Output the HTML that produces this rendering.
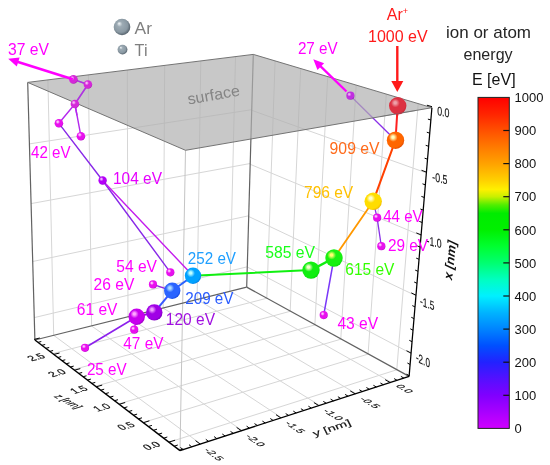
<!DOCTYPE html>
<html><head><meta charset="utf-8"><title>Ion trajectory</title>
<style>html,body{margin:0;padding:0;background:#fff;}svg{display:block;}text{font-family:"Liberation Sans",Arial,sans-serif;}</style>
</head><body>
<svg width="550" height="465" viewBox="0 0 550 465">
<defs>
<radialGradient id="gRed" cx="0.40" cy="0.38" r="0.66" fx="0.35" fy="0.32"><stop offset="0" stop-color="#eea0a8"/><stop offset="0.10" stop-color="#eea0a8"/><stop offset="0.38" stop-color="#dc3242"/><stop offset="0.82" stop-color="#dc3242"/><stop offset="1" stop-color="#c42434"/></radialGradient>
<radialGradient id="gMa3" cx="0.40" cy="0.38" r="0.66" fx="0.35" fy="0.32"><stop offset="0" stop-color="#f0b0f8"/><stop offset="0.10" stop-color="#f0b0f8"/><stop offset="0.38" stop-color="#c030e0"/><stop offset="0.82" stop-color="#c030e0"/><stop offset="1" stop-color="#9020b8"/></radialGradient>
<radialGradient id="gOr" cx="0.40" cy="0.38" r="0.66" fx="0.35" fy="0.32"><stop offset="0" stop-color="#ffffc0"/><stop offset="0.10" stop-color="#ffffc0"/><stop offset="0.38" stop-color="#ff6600"/><stop offset="0.82" stop-color="#ff6600"/><stop offset="1" stop-color="#e04800"/></radialGradient>
<radialGradient id="gYe" cx="0.40" cy="0.38" r="0.66" fx="0.35" fy="0.32"><stop offset="0" stop-color="#ffffd0"/><stop offset="0.10" stop-color="#ffffd0"/><stop offset="0.38" stop-color="#ffdd00"/><stop offset="0.82" stop-color="#ffdd00"/><stop offset="1" stop-color="#f0b800"/></radialGradient>
<radialGradient id="gYG" cx="0.40" cy="0.38" r="0.66" fx="0.35" fy="0.32"><stop offset="0" stop-color="#ffff70"/><stop offset="0.10" stop-color="#ffff70"/><stop offset="0.38" stop-color="#18f010"/><stop offset="0.82" stop-color="#18f010"/><stop offset="1" stop-color="#08dc08"/></radialGradient>
<radialGradient id="gGr" cx="0.40" cy="0.38" r="0.66" fx="0.35" fy="0.32"><stop offset="0" stop-color="#f0ffc8"/><stop offset="0.10" stop-color="#f0ffc8"/><stop offset="0.38" stop-color="#10ee10"/><stop offset="0.82" stop-color="#10ee10"/><stop offset="1" stop-color="#04d804"/></radialGradient>
<radialGradient id="gCy" cx="0.40" cy="0.38" r="0.66" fx="0.35" fy="0.32"><stop offset="0" stop-color="#c0ffff"/><stop offset="0.10" stop-color="#c0ffff"/><stop offset="0.38" stop-color="#00a2ff"/><stop offset="0.82" stop-color="#00a2ff"/><stop offset="1" stop-color="#0078e0"/></radialGradient>
<radialGradient id="gBl" cx="0.40" cy="0.38" r="0.66" fx="0.35" fy="0.32"><stop offset="0" stop-color="#b0e0ff"/><stop offset="0.10" stop-color="#b0e0ff"/><stop offset="0.38" stop-color="#2a64ff"/><stop offset="0.82" stop-color="#2a64ff"/><stop offset="1" stop-color="#1040d8"/></radialGradient>
<radialGradient id="gPu" cx="0.40" cy="0.38" r="0.66" fx="0.35" fy="0.32"><stop offset="0" stop-color="#f0a0ff"/><stop offset="0.10" stop-color="#f0a0ff"/><stop offset="0.38" stop-color="#a000e6"/><stop offset="0.82" stop-color="#a000e6"/><stop offset="1" stop-color="#7800b8"/></radialGradient>
<radialGradient id="gMP" cx="0.40" cy="0.38" r="0.66" fx="0.35" fy="0.32"><stop offset="0" stop-color="#ffa8ff"/><stop offset="0.10" stop-color="#ffa8ff"/><stop offset="0.38" stop-color="#c800ee"/><stop offset="0.82" stop-color="#c800ee"/><stop offset="1" stop-color="#9800c0"/></radialGradient>
<radialGradient id="gMa" cx="0.40" cy="0.38" r="0.66" fx="0.35" fy="0.32"><stop offset="0" stop-color="#ffc0ff"/><stop offset="0.10" stop-color="#ffc0ff"/><stop offset="0.38" stop-color="#e810ee"/><stop offset="0.82" stop-color="#e810ee"/><stop offset="1" stop-color="#b000c4"/></radialGradient>
<radialGradient id="gMa2" cx="0.40" cy="0.38" r="0.66" fx="0.35" fy="0.32"><stop offset="0" stop-color="#f8b8f8"/><stop offset="0.10" stop-color="#f8b8f8"/><stop offset="0.38" stop-color="#d428d8"/><stop offset="0.82" stop-color="#d428d8"/><stop offset="1" stop-color="#a818b0"/></radialGradient>
<radialGradient id="g104" cx="0.40" cy="0.38" r="0.66" fx="0.35" fy="0.32"><stop offset="0" stop-color="#f0b0ff"/><stop offset="0.10" stop-color="#f0b0ff"/><stop offset="0.38" stop-color="#b400f8"/><stop offset="0.82" stop-color="#b400f8"/><stop offset="1" stop-color="#8800d0"/></radialGradient>
<radialGradient id="gAr" cx="0.40" cy="0.38" r="0.66" fx="0.35" fy="0.32"><stop offset="0" stop-color="#f4f8fa"/><stop offset="0.10" stop-color="#f4f8fa"/><stop offset="0.38" stop-color="#8d9aa3"/><stop offset="0.82" stop-color="#8d9aa3"/><stop offset="1" stop-color="#5a666e"/></radialGradient>
<radialGradient id="gLeg" cx="0.46" cy="0.45" r="0.58" fx="0.32" fy="0.28"><stop offset="0" stop-color="#f4f7f9"/><stop offset="0.1" stop-color="#d3dbe0"/><stop offset="0.28" stop-color="#9dabb4"/><stop offset="0.72" stop-color="#8a99a3"/><stop offset="0.92" stop-color="#5f6c76"/><stop offset="1" stop-color="#4a5660"/></radialGradient>
<linearGradient id="cb" x1="0" y1="0" x2="0" y2="1"><stop offset="0.000" stop-color="#ff0000"/><stop offset="0.050" stop-color="#ff2400"/><stop offset="0.100" stop-color="#ff5000"/><stop offset="0.150" stop-color="#ff7a00"/><stop offset="0.200" stop-color="#ffa200"/><stop offset="0.250" stop-color="#ffd000"/><stop offset="0.278" stop-color="#fff000"/><stop offset="0.300" stop-color="#c8f000"/><stop offset="0.325" stop-color="#50ee00"/><stop offset="0.350" stop-color="#00ec00"/><stop offset="0.400" stop-color="#00f000"/><stop offset="0.450" stop-color="#00ff30"/><stop offset="0.500" stop-color="#00ff70"/><stop offset="0.550" stop-color="#00ffc0"/><stop offset="0.600" stop-color="#00f0ff"/><stop offset="0.650" stop-color="#00b4ff"/><stop offset="0.700" stop-color="#0084ff"/><stop offset="0.750" stop-color="#0050ff"/><stop offset="0.800" stop-color="#2222ff"/><stop offset="0.850" stop-color="#5410ff"/><stop offset="0.900" stop-color="#8000ff"/><stop offset="0.950" stop-color="#a800ff"/><stop offset="1.000" stop-color="#d000ff"/></linearGradient>
</defs>
<rect width="550" height="465" fill="#fff"/>
<g id="grid" fill="none">
<line x1="200.6" y1="443.9" x2="53.7" y2="335.3" stroke="#d6d6d6" stroke-width="1" />
<line x1="53.7" y1="335.3" x2="47.9" y2="79.9" stroke="#d6d6d6" stroke-width="1" />
<line x1="242.0" y1="430.5" x2="91.4" y2="325.9" stroke="#d6d6d6" stroke-width="1" />
<line x1="91.6" y1="325.8" x2="88.4" y2="74.9" stroke="#d6d6d6" stroke-width="1" />
<line x1="281.6" y1="417.7" x2="127.8" y2="316.8" stroke="#d6d6d6" stroke-width="1" />
<line x1="128.0" y1="316.7" x2="127.3" y2="70.0" stroke="#d6d6d6" stroke-width="1" />
<line x1="319.6" y1="405.4" x2="163.0" y2="308.0" stroke="#d6d6d6" stroke-width="1" />
<line x1="163.2" y1="308.0" x2="164.7" y2="65.4" stroke="#d6d6d6" stroke-width="1" />
<line x1="356.0" y1="393.6" x2="197.0" y2="299.5" stroke="#d6d6d6" stroke-width="1" />
<line x1="197.1" y1="299.5" x2="200.8" y2="60.9" stroke="#d6d6d6" stroke-width="1" />
<line x1="391.1" y1="382.2" x2="229.8" y2="291.3" stroke="#d6d6d6" stroke-width="1" />
<line x1="229.9" y1="291.3" x2="235.5" y2="56.6" stroke="#d6d6d6" stroke-width="1" />
<line x1="169.0" y1="442.2" x2="397.0" y2="369.7" stroke="#d6d6d6" stroke-width="1" />
<line x1="396.8" y1="369.7" x2="418.2" y2="103.6" stroke="#d6d6d6" stroke-width="1" />
<line x1="143.1" y1="422.5" x2="368.4" y2="354.0" stroke="#d6d6d6" stroke-width="1" />
<line x1="368.1" y1="353.8" x2="386.3" y2="94.1" stroke="#d6d6d6" stroke-width="1" />
<line x1="118.7" y1="403.9" x2="341.2" y2="339.1" stroke="#d6d6d6" stroke-width="1" />
<line x1="340.8" y1="338.8" x2="356.2" y2="85.1" stroke="#d6d6d6" stroke-width="1" />
<line x1="95.6" y1="386.2" x2="315.3" y2="324.8" stroke="#d6d6d6" stroke-width="1" />
<line x1="314.9" y1="324.6" x2="327.7" y2="76.6" stroke="#d6d6d6" stroke-width="1" />
<line x1="73.6" y1="369.5" x2="290.6" y2="311.2" stroke="#d6d6d6" stroke-width="1" />
<line x1="290.2" y1="311.0" x2="300.7" y2="68.5" stroke="#d6d6d6" stroke-width="1" />
<line x1="52.7" y1="353.6" x2="267.0" y2="298.2" stroke="#d6d6d6" stroke-width="1" />
<line x1="266.8" y1="298.1" x2="275.1" y2="60.9" stroke="#d6d6d6" stroke-width="1" />
<line x1="29.4" y1="143.9" x2="251.7" y2="109.7" stroke="#d6d6d6" stroke-width="1" />
<line x1="426.4" y1="172.9" x2="251.7" y2="110.3" stroke="#d6d6d6" stroke-width="1" />
<line x1="31.1" y1="203.6" x2="250.2" y2="163.5" stroke="#d6d6d6" stroke-width="1" />
<line x1="421.1" y1="235.5" x2="250.2" y2="164.3" stroke="#d6d6d6" stroke-width="1" />
<line x1="32.7" y1="261.5" x2="248.7" y2="215.8" stroke="#d6d6d6" stroke-width="1" />
<line x1="415.9" y1="295.7" x2="248.7" y2="216.5" stroke="#d6d6d6" stroke-width="1" />
<line x1="34.3" y1="317.6" x2="247.3" y2="266.8" stroke="#d6d6d6" stroke-width="1" />
<line x1="411.0" y1="353.5" x2="247.3" y2="267.0" stroke="#d6d6d6" stroke-width="1" />
</g>
<g id="edges">
<line x1="185.5" y1="150.3" x2="180.0" y2="450.6" stroke="#c4c4c4" stroke-width="1" />
<line x1="27.7" y1="82.4" x2="34.9" y2="340.0" stroke="#626262" stroke-width="1.2" />
<line x1="34.9" y1="340.0" x2="246.7" y2="287.1" stroke="#626262" stroke-width="1.2" />
<line x1="246.7" y1="287.1" x2="409.1" y2="376.4" stroke="#626262" stroke-width="1.2" />
<line x1="253.3" y1="54.4" x2="246.7" y2="287.1" stroke="#626262" stroke-width="1.2" />
</g>
<g id="traj" stroke-linecap="round">
<line x1="350.4" y1="95.7" x2="395.5" y2="140.2" stroke="#8a30e8" stroke-width="1.3" />
<line x1="377.1" y1="217.7" x2="373.2" y2="201.3" stroke="#8a30e8" stroke-width="1.3" />
<line x1="377.1" y1="217.7" x2="381.3" y2="246.2" stroke="#8a30e8" stroke-width="1.3" />
<line x1="334.0" y1="258.0" x2="323.7" y2="315.1" stroke="#7a38f8" stroke-width="1.5" />
<line x1="102.6" y1="180.5" x2="170.3" y2="272.3" stroke="#8828e8" stroke-width="1.4" />
<line x1="102.6" y1="180.5" x2="193.0" y2="275.8" stroke="#c41cee" stroke-width="1.4" />
<line x1="58.9" y1="123.3" x2="102.6" y2="180.5" stroke="#8828e8" stroke-width="1.4" />
<line x1="58.9" y1="123.3" x2="74.9" y2="104.0" stroke="#b428ee" stroke-width="1.4" />
<line x1="74.9" y1="104.0" x2="80.9" y2="136.2" stroke="#b428ee" stroke-width="1.4" />
<line x1="74.9" y1="104.0" x2="87.9" y2="84.5" stroke="#b428ee" stroke-width="1.4" />
<line x1="87.9" y1="84.5" x2="73.4" y2="79.4" stroke="#b428ee" stroke-width="1.4" />
<line x1="153.0" y1="284.4" x2="172.2" y2="290.8" stroke="#9020e0" stroke-width="1.4" />
<line x1="136.7" y1="316.7" x2="85.0" y2="347.8" stroke="#8c20ec" stroke-width="1.6" />
<line x1="136.7" y1="316.7" x2="134.2" y2="329.7" stroke="#d418ee" stroke-width="1.4" />
<line x1="397.7" y1="105.8" x2="395.5" y2="140.2" stroke="#ff2020" stroke-width="2.0" />
<line x1="395.5" y1="140.2" x2="373.2" y2="201.3" stroke="#ff4000" stroke-width="2.0" />
<line x1="373.2" y1="201.3" x2="334.0" y2="258.0" stroke="#ff9800" stroke-width="1.8" />
<line x1="334.0" y1="258.0" x2="311.0" y2="270.1" stroke="#10ee10" stroke-width="2.4" />
<line x1="311.0" y1="270.1" x2="193.0" y2="275.8" stroke="#10f010" stroke-width="2.0" />
<line x1="193.0" y1="275.8" x2="172.2" y2="290.8" stroke="#2860ff" stroke-width="2.0" />
<line x1="172.2" y1="290.8" x2="154.3" y2="312.4" stroke="#3858ff" stroke-width="2.0" />
<line x1="154.3" y1="312.4" x2="136.7" y2="316.7" stroke="#a000e0" stroke-width="2.0" />
<circle cx="58.9" cy="123.3" r="4.3" fill="url(#gMa)"/>
<circle cx="80.9" cy="136.2" r="4.3" fill="url(#gMa)"/>
<circle cx="377.1" cy="217.7" r="4.1" fill="url(#gMa)"/>
<circle cx="381.3" cy="246.2" r="4.1" fill="url(#gMa)"/>
<circle cx="323.7" cy="315.1" r="4.1" fill="url(#gMa)"/>
<circle cx="170.3" cy="272.3" r="4.1" fill="url(#gMa)"/>
<circle cx="153.0" cy="284.4" r="4.1" fill="url(#gMa)"/>
<circle cx="134.2" cy="329.7" r="4.1" fill="url(#gMa)"/>
<circle cx="85.0" cy="347.8" r="4.1" fill="url(#gMa)"/>
<circle cx="102.6" cy="180.5" r="4.2" fill="url(#g104)"/>
<circle cx="395.5" cy="140.2" r="8.7" fill="url(#gOr)"/>
<circle cx="373.2" cy="201.3" r="8.7" fill="url(#gYe)"/>
<circle cx="311.0" cy="270.1" r="8.7" fill="url(#gGr)"/>
<circle cx="334.0" cy="258.0" r="8.7" fill="url(#gYG)"/>
<circle cx="136.7" cy="316.7" r="8.2" fill="url(#gMP)"/>
<circle cx="154.3" cy="312.4" r="8.2" fill="url(#gPu)"/>
<circle cx="172.2" cy="290.8" r="8.2" fill="url(#gBl)"/>
<circle cx="193.0" cy="275.8" r="8.2" fill="url(#gCy)"/>
</g>
<polygon points="27.7,82.4 253.3,54.4 431.9,107.7 185.5,150.3" fill="#b0b0b0" fill-opacity="0.7" stroke="#747474" stroke-width="1.0" stroke-linejoin="round"/>
<line x1="74.9" y1="104.0" x2="87.9" y2="84.5" stroke="#b030e4" stroke-width="1.4" />
<line x1="87.9" y1="84.5" x2="73.4" y2="79.4" stroke="#b030e4" stroke-width="1.4" />
<line x1="74.9" y1="104.0" x2="77.0" y2="115.3" stroke="#b428ee" stroke-width="1.4" />
<circle cx="73.4" cy="79.4" r="4.3" fill="url(#gMa2)"/>
<circle cx="87.9" cy="84.5" r="4.3" fill="url(#gMa2)"/>
<circle cx="74.9" cy="104.0" r="4.3" fill="url(#gMa2)"/>
<circle cx="350.4" cy="95.7" r="4.1" fill="url(#gMa3)"/>
<line x1="397.7" y1="105.8" x2="397.1" y2="115.8" stroke="#f02030" stroke-width="2.2" />
<circle cx="397.7" cy="105.8" r="8.7" fill="url(#gRed)"/>
<line x1="380.0" y1="116.7" x2="415.0" y2="110.6" stroke="#6e6e6e" stroke-width="1.0" stroke-opacity="0.45"/>
<line x1="72.8" y1="79.3" x2="17.3" y2="61.7" stroke="#ff00ff" stroke-width="2.6" />
<polygon points="8.2,58.8 19.6,57.4 16.8,66.5" fill="#ff00ff"/>
<line x1="346.5" y1="91.5" x2="320.1" y2="65.9" stroke="#ff00ff" stroke-width="2.3" />
<polygon points="313.3,59.3 324.1,63.2 317.5,70.0" fill="#ff00ff"/>
<line x1="397.3" y1="46.0" x2="397.3" y2="82.0" stroke="#ff1a1a" stroke-width="2.4" />
<polygon points="397.3,92.0 391.3,81.0 403.3,81.0" fill="#ff1a1a"/>
<g id="axes" stroke-linecap="butt">
<line x1="431.9" y1="107.7" x2="409.1" y2="376.4" stroke="#000" stroke-width="1.25" />
<line x1="409.1" y1="376.4" x2="180.0" y2="450.6" stroke="#000" stroke-width="1.4" />
<line x1="180.0" y1="450.6" x2="34.9" y2="340.0" stroke="#000" stroke-width="1.4" />
<line x1="432.0" y1="106.7" x2="426.9" y2="105.2" stroke="#000" stroke-width="1.0" />
<line x1="430.9" y1="120.0" x2="427.9" y2="119.1" stroke="#000" stroke-width="1.0" />
<line x1="429.7" y1="133.2" x2="426.8" y2="132.2" stroke="#000" stroke-width="1.0" />
<line x1="428.6" y1="146.3" x2="425.7" y2="145.3" stroke="#000" stroke-width="1.0" />
<line x1="427.5" y1="159.2" x2="424.6" y2="158.2" stroke="#000" stroke-width="1.0" />
<line x1="426.4" y1="172.1" x2="421.5" y2="170.3" stroke="#000" stroke-width="1.0" />
<line x1="425.4" y1="184.9" x2="422.5" y2="183.8" stroke="#000" stroke-width="1.0" />
<line x1="424.3" y1="197.5" x2="421.4" y2="196.4" stroke="#000" stroke-width="1.0" />
<line x1="423.2" y1="210.1" x2="420.4" y2="209.0" stroke="#000" stroke-width="1.0" />
<line x1="422.2" y1="222.5" x2="419.3" y2="221.4" stroke="#000" stroke-width="1.0" />
<line x1="421.1" y1="234.9" x2="416.3" y2="232.9" stroke="#000" stroke-width="1.0" />
<line x1="420.1" y1="247.1" x2="417.3" y2="245.9" stroke="#000" stroke-width="1.0" />
<line x1="419.0" y1="259.3" x2="416.2" y2="258.1" stroke="#000" stroke-width="1.0" />
<line x1="418.0" y1="271.3" x2="415.2" y2="270.1" stroke="#000" stroke-width="1.0" />
<line x1="417.0" y1="283.3" x2="414.2" y2="282.0" stroke="#000" stroke-width="1.0" />
<line x1="416.0" y1="295.2" x2="411.3" y2="292.9" stroke="#000" stroke-width="1.0" />
<line x1="415.0" y1="306.9" x2="412.3" y2="305.6" stroke="#000" stroke-width="1.0" />
<line x1="414.0" y1="318.6" x2="411.3" y2="317.3" stroke="#000" stroke-width="1.0" />
<line x1="413.0" y1="330.2" x2="410.3" y2="328.8" stroke="#000" stroke-width="1.0" />
<line x1="412.0" y1="341.7" x2="409.3" y2="340.3" stroke="#000" stroke-width="1.0" />
<line x1="411.1" y1="353.1" x2="406.5" y2="350.7" stroke="#000" stroke-width="1.0" />
<line x1="410.1" y1="364.5" x2="407.4" y2="363.0" stroke="#000" stroke-width="1.0" />
<line x1="409.2" y1="375.7" x2="406.5" y2="374.2" stroke="#000" stroke-width="1.0" />
<line x1="183.2" y1="449.6" x2="180.4" y2="447.5" stroke="#000" stroke-width="1.0" />
<line x1="191.7" y1="446.8" x2="189.0" y2="444.7" stroke="#000" stroke-width="1.0" />
<line x1="200.2" y1="444.1" x2="195.5" y2="440.6" stroke="#000" stroke-width="1.0" />
<line x1="208.6" y1="441.4" x2="205.8" y2="439.3" stroke="#000" stroke-width="1.0" />
<line x1="216.9" y1="438.7" x2="214.1" y2="436.6" stroke="#000" stroke-width="1.0" />
<line x1="225.1" y1="436.0" x2="222.3" y2="434.0" stroke="#000" stroke-width="1.0" />
<line x1="233.3" y1="433.3" x2="230.5" y2="431.4" stroke="#000" stroke-width="1.0" />
<line x1="241.4" y1="430.7" x2="236.6" y2="427.4" stroke="#000" stroke-width="1.0" />
<line x1="249.4" y1="428.1" x2="246.6" y2="426.2" stroke="#000" stroke-width="1.0" />
<line x1="257.4" y1="425.5" x2="254.5" y2="423.6" stroke="#000" stroke-width="1.0" />
<line x1="265.3" y1="423.0" x2="262.4" y2="421.1" stroke="#000" stroke-width="1.0" />
<line x1="273.1" y1="420.4" x2="270.3" y2="418.5" stroke="#000" stroke-width="1.0" />
<line x1="280.9" y1="417.9" x2="276.0" y2="414.7" stroke="#000" stroke-width="1.0" />
<line x1="288.6" y1="415.4" x2="285.7" y2="413.6" stroke="#000" stroke-width="1.0" />
<line x1="296.2" y1="413.0" x2="293.3" y2="411.1" stroke="#000" stroke-width="1.0" />
<line x1="303.8" y1="410.5" x2="300.9" y2="408.7" stroke="#000" stroke-width="1.0" />
<line x1="311.3" y1="408.1" x2="308.4" y2="406.2" stroke="#000" stroke-width="1.0" />
<line x1="318.8" y1="405.6" x2="313.9" y2="402.6" stroke="#000" stroke-width="1.0" />
<line x1="326.2" y1="403.2" x2="323.3" y2="401.4" stroke="#000" stroke-width="1.0" />
<line x1="333.5" y1="400.9" x2="330.6" y2="399.1" stroke="#000" stroke-width="1.0" />
<line x1="340.8" y1="398.5" x2="337.9" y2="396.7" stroke="#000" stroke-width="1.0" />
<line x1="348.1" y1="396.2" x2="345.1" y2="394.4" stroke="#000" stroke-width="1.0" />
<line x1="355.2" y1="393.8" x2="350.2" y2="390.9" stroke="#000" stroke-width="1.0" />
<line x1="362.3" y1="391.5" x2="359.4" y2="389.8" stroke="#000" stroke-width="1.0" />
<line x1="369.4" y1="389.3" x2="366.4" y2="387.5" stroke="#000" stroke-width="1.0" />
<line x1="376.4" y1="387.0" x2="373.4" y2="385.3" stroke="#000" stroke-width="1.0" />
<line x1="383.3" y1="384.7" x2="380.4" y2="383.0" stroke="#000" stroke-width="1.0" />
<line x1="390.2" y1="382.5" x2="385.2" y2="379.7" stroke="#000" stroke-width="1.0" />
<line x1="397.1" y1="380.3" x2="394.1" y2="378.6" stroke="#000" stroke-width="1.0" />
<line x1="403.9" y1="378.1" x2="400.9" y2="376.4" stroke="#000" stroke-width="1.0" />
<line x1="179.5" y1="450.2" x2="183.2" y2="449.1" stroke="#000" stroke-width="1.0" />
<line x1="174.2" y1="446.2" x2="177.8" y2="445.0" stroke="#000" stroke-width="1.0" />
<line x1="168.9" y1="442.1" x2="175.1" y2="440.2" stroke="#000" stroke-width="1.0" />
<line x1="163.7" y1="438.2" x2="167.3" y2="437.0" stroke="#000" stroke-width="1.0" />
<line x1="158.5" y1="434.2" x2="162.1" y2="433.1" stroke="#000" stroke-width="1.0" />
<line x1="153.4" y1="430.3" x2="157.0" y2="429.2" stroke="#000" stroke-width="1.0" />
<line x1="148.4" y1="426.5" x2="151.9" y2="425.4" stroke="#000" stroke-width="1.0" />
<line x1="143.4" y1="422.7" x2="149.4" y2="420.8" stroke="#000" stroke-width="1.0" />
<line x1="138.4" y1="418.9" x2="142.0" y2="417.8" stroke="#000" stroke-width="1.0" />
<line x1="133.5" y1="415.2" x2="137.1" y2="414.1" stroke="#000" stroke-width="1.0" />
<line x1="128.7" y1="411.5" x2="132.2" y2="410.5" stroke="#000" stroke-width="1.0" />
<line x1="123.9" y1="407.9" x2="127.4" y2="406.8" stroke="#000" stroke-width="1.0" />
<line x1="119.2" y1="404.3" x2="125.2" y2="402.5" stroke="#000" stroke-width="1.0" />
<line x1="114.5" y1="400.7" x2="118.0" y2="399.7" stroke="#000" stroke-width="1.0" />
<line x1="109.9" y1="397.2" x2="113.4" y2="396.2" stroke="#000" stroke-width="1.0" />
<line x1="105.3" y1="393.7" x2="108.8" y2="392.7" stroke="#000" stroke-width="1.0" />
<line x1="100.8" y1="390.2" x2="104.2" y2="389.2" stroke="#000" stroke-width="1.0" />
<line x1="96.3" y1="386.8" x2="102.2" y2="385.1" stroke="#000" stroke-width="1.0" />
<line x1="91.8" y1="383.4" x2="95.3" y2="382.4" stroke="#000" stroke-width="1.0" />
<line x1="87.4" y1="380.0" x2="90.9" y2="379.1" stroke="#000" stroke-width="1.0" />
<line x1="83.1" y1="376.7" x2="86.5" y2="375.8" stroke="#000" stroke-width="1.0" />
<line x1="78.8" y1="373.4" x2="82.2" y2="372.5" stroke="#000" stroke-width="1.0" />
<line x1="74.5" y1="370.2" x2="80.3" y2="368.6" stroke="#000" stroke-width="1.0" />
<line x1="70.3" y1="367.0" x2="73.7" y2="366.1" stroke="#000" stroke-width="1.0" />
<line x1="66.1" y1="363.8" x2="69.5" y2="362.9" stroke="#000" stroke-width="1.0" />
<line x1="62.0" y1="360.6" x2="65.3" y2="359.8" stroke="#000" stroke-width="1.0" />
<line x1="57.9" y1="357.5" x2="61.2" y2="356.6" stroke="#000" stroke-width="1.0" />
<line x1="53.8" y1="354.4" x2="59.5" y2="353.0" stroke="#000" stroke-width="1.0" />
<line x1="49.8" y1="351.4" x2="53.1" y2="350.5" stroke="#000" stroke-width="1.0" />
<line x1="45.8" y1="348.3" x2="49.2" y2="347.5" stroke="#000" stroke-width="1.0" />
<line x1="41.9" y1="345.3" x2="45.2" y2="344.5" stroke="#000" stroke-width="1.0" />
<line x1="38.0" y1="342.4" x2="41.3" y2="341.5" stroke="#000" stroke-width="1.0" />
<line x1="34.1" y1="339.4" x2="39.8" y2="338.0" stroke="#000" stroke-width="1.0" />
</g>
<g id="ticklabels" font-family="'Liberation Sans', Arial, sans-serif">
<text transform="matrix(0.707,0.137,0.000,1.000,443.3,111.7)" y="4.47" font-size="12.5" font-weight="normal" font-style="normal" text-anchor="middle" fill="#111" stroke="#111" stroke-width="0.15">0.0</text>
<text transform="matrix(0.703,0.156,0.000,1.000,439.9,178.1)" y="4.47" font-size="12.5" font-weight="normal" font-style="normal" text-anchor="middle" fill="#111" stroke="#111" stroke-width="0.15">-0.5</text>
<text transform="matrix(0.695,0.186,0.000,1.000,434.1,241.9)" y="4.47" font-size="12.5" font-weight="normal" font-style="normal" text-anchor="middle" fill="#111" stroke="#111" stroke-width="0.15">-1.0</text>
<text transform="matrix(0.672,0.258,0.000,1.000,427.3,303.4)" y="4.47" font-size="12.5" font-weight="normal" font-style="normal" text-anchor="middle" fill="#111" stroke="#111" stroke-width="0.15">-1.5</text>
<text transform="matrix(0.653,0.304,0.000,1.000,422.9,360.1)" y="4.47" font-size="12.5" font-weight="normal" font-style="normal" text-anchor="middle" fill="#111" stroke="#111" stroke-width="0.15">-2.0</text>
<text transform="matrix(0.784,0.442,-0.761,0.246,404.7,388.6)" y="4.30" font-size="12" font-weight="normal" font-style="normal" text-anchor="middle" fill="#111" stroke="#111" stroke-width="0.25">0.0</text>
<text transform="matrix(0.774,0.458,-0.761,0.246,370.1,402.7)" y="4.30" font-size="12" font-weight="normal" font-style="normal" text-anchor="middle" fill="#111" stroke="#111" stroke-width="0.25">-0.5</text>
<text transform="matrix(0.764,0.476,-0.761,0.246,333.5,414.8)" y="4.30" font-size="12" font-weight="normal" font-style="normal" text-anchor="middle" fill="#111" stroke="#111" stroke-width="0.25">-1.0</text>
<text transform="matrix(0.752,0.494,-0.761,0.246,295.3,427.4)" y="4.30" font-size="12" font-weight="normal" font-style="normal" text-anchor="middle" fill="#111" stroke="#111" stroke-width="0.25">-1.5</text>
<text transform="matrix(0.739,0.514,-0.761,0.246,255.6,440.6)" y="4.30" font-size="12" font-weight="normal" font-style="normal" text-anchor="middle" fill="#111" stroke="#111" stroke-width="0.25">-2.0</text>
<text transform="matrix(0.724,0.535,-0.761,0.246,214.1,454.4)" y="4.30" font-size="12" font-weight="normal" font-style="normal" text-anchor="middle" fill="#111" stroke="#111" stroke-width="0.25">-2.5</text>
<text transform="matrix(0.858,-0.273,0.700,0.533,151.4,445.6)" y="4.30" font-size="12" font-weight="normal" font-style="normal" text-anchor="middle" fill="#111" stroke="#111" stroke-width="0.25">0.0</text>
<text transform="matrix(0.861,-0.262,0.700,0.533,125.8,425.9)" y="4.30" font-size="12" font-weight="normal" font-style="normal" text-anchor="middle" fill="#111" stroke="#111" stroke-width="0.25">0.5</text>
<text transform="matrix(0.864,-0.252,0.700,0.533,101.6,407.3)" y="4.30" font-size="12" font-weight="normal" font-style="normal" text-anchor="middle" fill="#111" stroke="#111" stroke-width="0.25">1.0</text>
<text transform="matrix(0.867,-0.243,0.700,0.533,78.6,389.6)" y="4.30" font-size="12" font-weight="normal" font-style="normal" text-anchor="middle" fill="#111" stroke="#111" stroke-width="0.25">1.5</text>
<text transform="matrix(0.869,-0.234,0.700,0.533,56.8,372.9)" y="4.30" font-size="12" font-weight="normal" font-style="normal" text-anchor="middle" fill="#111" stroke="#111" stroke-width="0.25">2.0</text>
<text transform="matrix(0.871,-0.226,0.700,0.533,36.1,357.0)" y="4.30" font-size="12" font-weight="normal" font-style="normal" text-anchor="middle" fill="#111" stroke="#111" stroke-width="0.25">2.5</text>
<text transform="matrix(0.105,-0.995,0.922,0.230,449.8,260.0)" y="4.65" font-size="13" font-weight="bold" font-style="italic" text-anchor="middle" fill="#111" stroke="#111" stroke-width="0">x [nm]</text>
<text transform="matrix(1.141,-0.371,0.342,0.676,331.6,427.9)" y="4.30" font-size="12" font-weight="normal" font-style="normal" text-anchor="middle" fill="#111" stroke="#111" stroke-width="0.2">y [nm]</text>
<text transform="matrix(0.700,0.388,-0.902,0.294,68.5,401.5)" y="4.30" font-size="12" font-weight="normal" font-style="normal" text-anchor="middle" fill="#111" stroke="#111" stroke-width="0.2">z [nm]</text>
</g>
<g id="elabels" font-family="'Liberation Sans', Arial, sans-serif" font-size="16">
<text x="8.0" y="54.7" fill="#ff00ff" font-size="16" textLength="41.0" lengthAdjust="spacingAndGlyphs">37 eV</text>
<text x="31.0" y="157.7" fill="#ff00ff" font-size="16" textLength="39.5" lengthAdjust="spacingAndGlyphs">42 eV</text>
<text x="113.0" y="183.7" fill="#e600ff" font-size="16" textLength="49.0" lengthAdjust="spacingAndGlyphs">104 eV</text>
<text x="116.3" y="271.7" fill="#ff00ff" font-size="16" textLength="40.7" lengthAdjust="spacingAndGlyphs">54 eV</text>
<text x="93.6" y="289.7" fill="#ff00ff" font-size="16" textLength="40.8" lengthAdjust="spacingAndGlyphs">26 eV</text>
<text x="76.8" y="314.9" fill="#ff00ff" font-size="16" textLength="40.6" lengthAdjust="spacingAndGlyphs">61 eV</text>
<text x="123.3" y="349.2" fill="#ff00ff" font-size="16" textLength="40.1" lengthAdjust="spacingAndGlyphs">47 eV</text>
<text x="86.9" y="374.5" fill="#ff00ff" font-size="16" textLength="39.8" lengthAdjust="spacingAndGlyphs">25 eV</text>
<text x="165.8" y="325.2" fill="#a010e0" font-size="16" textLength="49.2" lengthAdjust="spacingAndGlyphs">120 eV</text>
<text x="185.2" y="303.7" fill="#2a5cff" font-size="16" textLength="48.3" lengthAdjust="spacingAndGlyphs">209 eV</text>
<text x="187.8" y="263.5" fill="#1e9fff" font-size="16" textLength="48.2" lengthAdjust="spacingAndGlyphs">252 eV</text>
<text x="265.2" y="258.1" fill="#1aff1a" font-size="16" textLength="49.8" lengthAdjust="spacingAndGlyphs">585 eV</text>
<text x="345.3" y="274.5" fill="#33ff00" font-size="16" textLength="49.1" lengthAdjust="spacingAndGlyphs">615 eV</text>
<text x="337.4" y="328.8" fill="#ff00ff" font-size="16" textLength="40.8" lengthAdjust="spacingAndGlyphs">43 eV</text>
<text x="387.9" y="251.4" fill="#ff00ff" font-size="16" textLength="40.1" lengthAdjust="spacingAndGlyphs">29 eV</text>
<text x="383.2" y="222.2" fill="#ff00ff" font-size="16" textLength="39.5" lengthAdjust="spacingAndGlyphs">44 eV</text>
<text x="304.0" y="197.9" fill="#ffc000" font-size="16" textLength="49.2" lengthAdjust="spacingAndGlyphs">796 eV</text>
<text x="329.6" y="154.0" fill="#ff6a1a" font-size="16" textLength="50.0" lengthAdjust="spacingAndGlyphs">909 eV</text>
<text x="297.9" y="54.2" fill="#ff00ff" font-size="16" textLength="39.8" lengthAdjust="spacingAndGlyphs">27 eV</text>
<text x="368.0" y="42.0" fill="#ff1a1a" font-size="16" textLength="59.6" lengthAdjust="spacingAndGlyphs">1000 eV</text>
<text x="386.8" y="20" fill="#ff1a1a" font-size="16">Ar<tspan font-size="9" dy="-6">+</tspan></text>
<text x="134.6" y="34.3" fill="#7f7f7f" font-size="16" textLength="17.4" lengthAdjust="spacingAndGlyphs">Ar</text>
<text x="134.6" y="56.2" fill="#7f7f7f" font-size="16" textLength="12.9" lengthAdjust="spacingAndGlyphs">Ti</text>
<text x="446.0" y="37.7" fill="#262626" font-size="17" textLength="85.0" lengthAdjust="spacingAndGlyphs">ion or atom</text>
<text x="463.5" y="59.7" fill="#262626" font-size="17" textLength="49.1" lengthAdjust="spacingAndGlyphs">energy</text>
<text x="472" y="85.3" fill="#111" font-size="16">E [eV]</text>
<text transform="translate(214.5,100) rotate(-10)" text-anchor="middle" fill="#858585" font-size="15.5" textLength="53" lengthAdjust="spacingAndGlyphs">surface</text>
</g>
<circle cx="122.0" cy="27.0" r="8.3" fill="url(#gLeg)"/>
<circle cx="122.5" cy="49.6" r="4.9" fill="url(#gLeg)"/>
<rect x="478" y="97.4" width="31.3" height="331" fill="url(#cb)" stroke="#222" stroke-width="1"/>
<g font-family="'Liberation Sans', Arial, sans-serif" font-size="13" fill="#111">
<text x="514.6" y="433.1">0</text>
<line x1="503.3" y1="395.3" x2="509.3" y2="395.3" stroke="#111" stroke-width="1.2"/>
<text x="514.6" y="400.0">100</text>
<line x1="503.3" y1="362.2" x2="509.3" y2="362.2" stroke="#111" stroke-width="1.2"/>
<text x="514.6" y="366.9">200</text>
<line x1="503.3" y1="329.1" x2="509.3" y2="329.1" stroke="#111" stroke-width="1.2"/>
<text x="514.6" y="333.8">300</text>
<line x1="503.3" y1="296.0" x2="509.3" y2="296.0" stroke="#111" stroke-width="1.2"/>
<text x="514.6" y="300.7">400</text>
<line x1="503.3" y1="262.9" x2="509.3" y2="262.9" stroke="#111" stroke-width="1.2"/>
<text x="514.6" y="267.6">500</text>
<line x1="503.3" y1="229.8" x2="509.3" y2="229.8" stroke="#111" stroke-width="1.2"/>
<text x="514.6" y="234.5">600</text>
<line x1="503.3" y1="196.7" x2="509.3" y2="196.7" stroke="#111" stroke-width="1.2"/>
<text x="514.6" y="201.4">700</text>
<line x1="503.3" y1="163.6" x2="509.3" y2="163.6" stroke="#111" stroke-width="1.2"/>
<text x="514.6" y="168.3">800</text>
<line x1="503.3" y1="130.5" x2="509.3" y2="130.5" stroke="#111" stroke-width="1.2"/>
<text x="514.6" y="135.2">900</text>
<text x="514.6" y="102.1">1000</text>
</g>
</svg>
</body></html>
